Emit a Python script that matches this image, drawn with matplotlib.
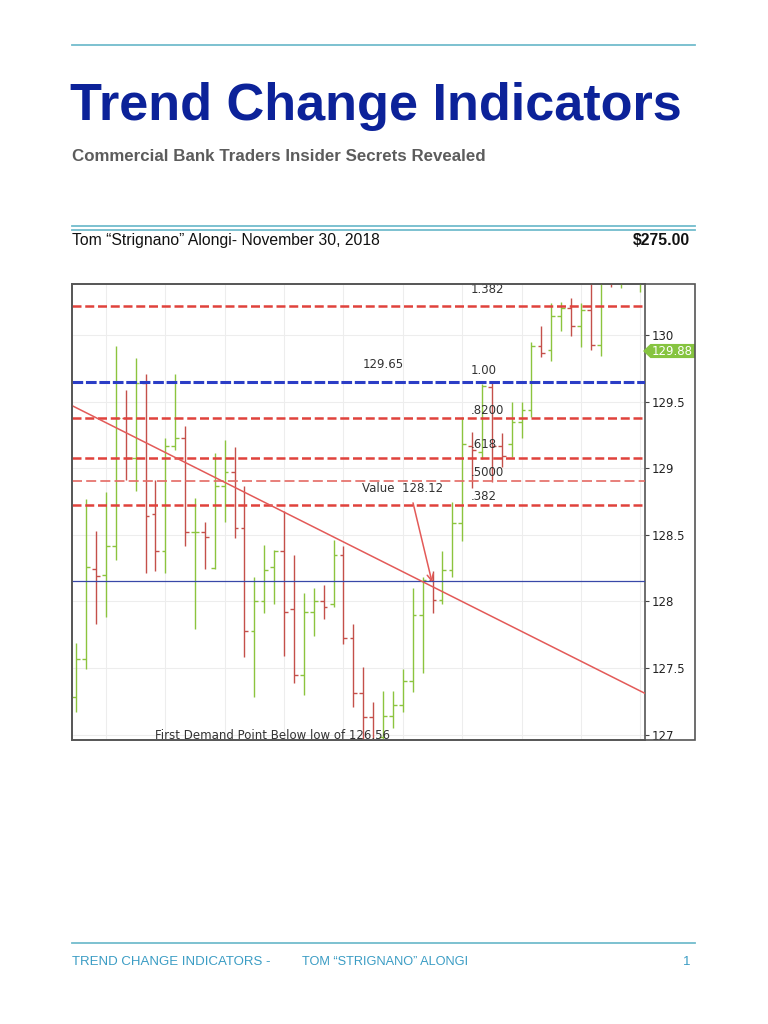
import matplotlib
matplotlib.use('Agg')
import matplotlib.pyplot as plt
from matplotlib.patches import Rectangle, Polygon
from matplotlib.lines import Line2D
from matplotlib.transforms import blended_transform_factory

# ---------------- data ----------------
opens = [127.28, 127.57, 128.245, 128.20, 128.42, 129.38, 129.08, 129.64, 128.66, 128.38,
         129.165, 129.23, 128.52, 128.52, 128.25, 128.87, 128.975, 128.55, 127.78, 128.00,
         128.257, 128.38, 127.94, 127.445, 127.92, 128.00, 127.98, 128.35, 127.725, 127.31,
         127.13, 126.98, 127.14, 127.225, 127.40, 127.895, 128.16, 128.01, 128.237, 128.587,
         129.17, 129.12, 129.61, 129.17, 129.18, 129.35, 129.44, 129.915, 129.888, 130.145,
         130.20, 130.065, 130.19, 129.925, 130.45, 130.40, 130.48, 130.50]
highs = [127.69, 128.77, 128.53, 128.82, 129.915, 129.59, 129.83, 129.71, 128.91, 129.23,
         129.71, 129.32, 128.78, 128.595, 129.115, 129.215, 129.16, 128.87, 128.18, 128.425,
         128.39, 128.68, 128.35, 128.065, 128.10, 128.12, 128.46, 128.42, 127.83, 127.51,
         127.245, 127.33, 127.33, 127.49, 128.10, 128.18, 128.23, 128.38, 128.745, 129.387,
         129.27, 129.635, 129.64, 129.265, 129.495, 129.50, 129.95, 130.065, 130.237, 130.25,
         130.28, 130.237, 130.50, 130.55, 130.60, 130.55, 130.60, 130.65]
lows = [127.17, 127.49, 127.83, 127.88, 128.31, 128.91, 128.83, 128.21, 128.23, 128.21,
        129.14, 128.42, 127.79, 128.245, 128.24, 128.595, 128.48, 127.58, 127.28, 127.915,
        127.98, 127.59, 127.39, 127.295, 127.74, 127.87, 127.96, 127.68, 127.21, 126.90,
        126.90, 126.90, 127.05, 127.17, 127.32, 127.46, 127.91, 127.98, 128.18, 128.457,
        128.85, 129.07, 128.90, 129.013, 129.087, 129.23, 129.387, 129.838, 129.807, 130.03,
        129.99, 129.91, 129.89, 129.84, 130.36, 130.35, 130.42, 130.32]
closes = [127.57, 128.26, 128.19, 128.42, 129.38, 129.08, 129.64, 128.645, 128.38, 129.165,
          129.23, 128.52, 128.525, 128.485, 128.87, 128.975, 128.55, 127.78, 128.00, 128.235,
          128.38, 127.92, 127.445, 127.92, 128.00, 127.96, 128.35, 127.725, 127.31, 127.13,
          126.95, 127.14, 127.22, 127.40, 127.895, 128.16, 128.01, 128.237, 128.587, 129.18,
          129.14, 129.62, 129.17, 129.09, 129.35, 129.44, 129.915, 129.865, 130.145, 130.20,
          130.065, 130.19, 129.925, 130.45, 130.40, 130.48, 130.50, 130.55]

fib_labels = ['1.382', '1.00', '.8200', '.618', '.5000', '.382']
fib_levels = [130.22, 129.65, 129.38, 129.08, 128.905, 128.725]
fib_label_y = [130.34, 129.735, 129.43, 129.18, 128.965, 128.79]
support_level = 128.15
trend_x = [-0.43, 57.47]
trend_y = [129.47, 127.31]
arrow_from = (34.03, 128.74)
arrow_to = (35.95, 128.145)
last_price = 129.88
yticks = [127, 127.5, 128, 128.5, 129, 129.5, 130]
ytick_labels = ['127', '127.5', '128', '128.5', '129', '129.5', '130']
xgrid = list(range(3, 58, 6))

# ---------------- page ----------------
W, H = 768, 1024
fig = plt.figure(figsize=(7.68, 10.24), dpi=100)
fig.patch.set_facecolor('white')

def fx(px):
    return px / W

def fy(py):
    return 1 - py / H

teal = '#72bccd'
fig.add_artist(Line2D([fx(72), fx(695)], [fy(45), fy(45)], color=teal, lw=1.3))
fig.add_artist(Line2D([fx(72), fx(695)], [fy(226), fy(226)], color=teal, lw=1.3))
fig.add_artist(Line2D([fx(72), fx(695)], [fy(229.5), fy(229.5)], color=teal, lw=1.3))
fig.add_artist(Line2D([fx(72), fx(695)], [fy(943), fy(943)], color=teal, lw=1.3))

sans = ['Liberation Sans', 'DejaVu Sans']
fig.text(fx(70), fy(120), 'Trend Change Indicators', family=sans, weight='bold',
         fontsize=37.6, color='#0c2299', va='baseline', ha='left')
fig.text(fx(72), fy(161), 'Commercial Bank Traders Insider Secrets Revealed', family=sans,
         weight='bold', fontsize=12.2, color='#5c5c5c', va='baseline', ha='left')
fig.text(fx(72), fy(245), 'Tom \u201cStrignano\u201d Alongi- November 30, 2018', family=sans,
         fontsize=11.3, color='#111111', va='baseline', ha='left')
fig.text(fx(690), fy(245), '$275.00', family=sans, weight='bold',
         fontsize=11.3, color='#111111', va='baseline', ha='right')

foot = '#3a9cc4'
fig.text(fx(72), fy(965), 'TREND CHANGE INDICATORS -', family=sans, fontsize=9.5,
         color=foot, va='baseline', ha='left')
fig.text(fx(302), fy(965), 'TOM \u201cSTRIGNANO\u201d ALONGI', family=sans, fontsize=9.2,
         color=foot, va='baseline', ha='left')
fig.text(fx(690), fy(965), '1', family=sans, fontsize=9.5, color=foot,
         va='baseline', ha='right')

# ---------------- chart ----------------
ax = fig.add_axes([fx(72), fy(740), fx(645) - fx(72), fy(284) - fy(740)])
ax.set_xlim(trend_x[0], trend_x[1])
ax.set_ylim(126.96, 130.383)

ax.set_xticks(xgrid)
ax.set_xticklabels([])
ax.set_yticks(yticks)
ax.set_yticklabels(ytick_labels)
ax.yaxis.tick_right()
ax.tick_params(axis='x', length=0)
ax.tick_params(axis='y', length=3, width=0.8, colors='#444444', labelsize=8.5, pad=2,
               labelcolor='#222222')
ax.grid(True, color='#ededed', lw=0.8, zorder=0)
ax.set_axisbelow(True)
for s in ax.spines.values():
    s.set_color('#555555')
    s.set_linewidth(1.2)

green = '#8cc43e'
red = '#c4504a'
n = len(opens)
xs = list(range(n))
cols = [green if c >= o else red for o, c in zip(opens, closes)]
tw = 0.38
ax.vlines(xs, lows, highs, colors=cols, lw=1.0, zorder=3)
ax.hlines(opens, [x - tw for x in xs], xs, colors=cols, lw=1.0, zorder=3)
ax.hlines(closes, xs, [x + tw for x in xs], colors=cols, lw=1.0, zorder=3)

# fib / levels
for lab, lev in zip(fib_labels, fib_levels):
    if lab == '1.00':
        ax.axhline(lev, color='#2b3dc6', lw=2.2, ls=(0, (3.5, 0.9)), zorder=4)
    elif lab == '.5000':
        ax.axhline(lev, color='#e46a64', lw=1.2, ls=(0, (6, 2.5)), zorder=4)
    else:
        ax.axhline(lev, color='#e0423c', lw=1.8, ls=(0, (3.6, 1.5)), zorder=4)
ax.axhline(support_level, color='#3848a8', lw=0.9, zorder=4)

# trend line and arrow
ax.plot(trend_x, trend_y, color='#e35a58', lw=1.1, zorder=5)
ax.annotate('', xy=arrow_to, xytext=arrow_from,
            arrowprops=dict(arrowstyle='->', color='#e35a58', lw=1.1, mutation_scale=11,
                            shrinkA=0, shrinkB=0), zorder=6)

tf = dict(family='DejaVu Sans', fontsize=8.5, color='#333333', zorder=7)
for lab, ly in zip(fib_labels, fib_label_y):
    ax.text(39.9, ly, lab, ha='left', va='center', **tf)
ax.text(28.9, 129.78, '%.2f' % fib_levels[1], ha='left', va='center', **tf)
ax.text(28.9, 128.85, 'Value  128.12', ha='left', va='center', **tf)
ax.text(7.95, 126.995, 'First Demand Point Below low of 126.56', ha='left', va='center',
        clip_on=True, **tf)

# price tag
bt = blended_transform_factory(ax.transAxes, ax.transData)
hh = 0.053
tag = Polygon([(0.9965, last_price), (1.0095, last_price + hh), (1.0873, last_price + hh),
               (1.0873, last_price - hh), (1.0095, last_price - hh)], closed=True,
              transform=bt, facecolor='#86c440', edgecolor='none', clip_on=False, zorder=8)
ax.add_patch(tag)
ax.text(1.048, last_price, '%.2f' % last_price, transform=bt, ha='center', va='center',
        color='white', fontsize=8.5, family='DejaVu Sans', clip_on=False, zorder=9)

# outer frame
fig.add_artist(Rectangle((fx(72), fy(740)), fx(695) - fx(72), fy(284) - fy(740),
                         transform=fig.transFigure, fill=False, edgecolor='#555555', lw=1.2))

fig.savefig('out.png', dpi=100)
